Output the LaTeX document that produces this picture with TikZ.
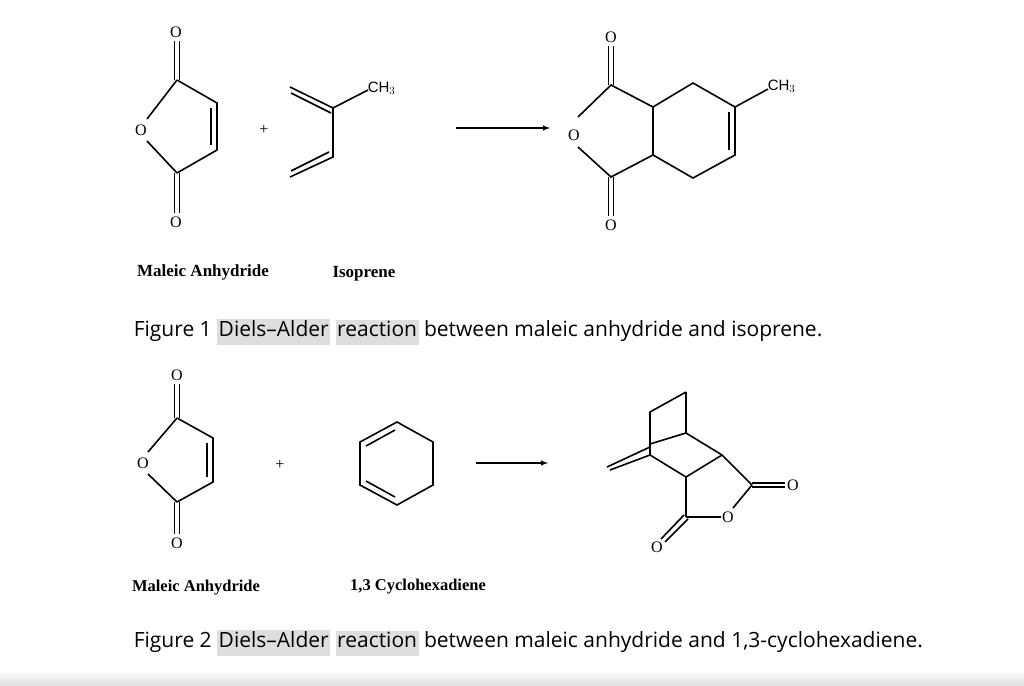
\documentclass[tikz,border=0pt]{standalone}
\usepackage{fontspec}
\setmainfont{Liberation Serif}
\newfontfamily\capfont{Open Sans}
\newfontfamily\chsans{Liberation Sans}
\usepackage{xcolor}
\definecolor{hl}{HTML}{DEDEDE}
\begin{document}
\begin{tikzpicture}[x=1pt,y=-1pt,line width=1.6pt,
  atom/.style={font=\fontsize{16}{16}\selectfont,inner sep=0pt},
  ch/.style={font=\chsans\fontsize{15}{15}\selectfont,inner sep=0pt},
  lab/.style={font=\bfseries\fontsize{17}{17}\selectfont,inner sep=0pt},
  capt/.style={font=\capfont\fontsize{21}{21}\selectfont,inner sep=0pt,anchor=west},
  arr/.style={-latex,line width=1.4pt}]
\useasboundingbox (0,0) rectangle (1024,685);
\fill[white] (0,0) rectangle (1024,685);
\shade[top color=white,bottom color=black!12] (0,670) rectangle (1024,685);
\newcommand{\hlw}[1]{{\setlength{\fboxsep}{1.5pt}\colorbox{hl}{\strut #1}}}
% ---- Figure 1 maleic anhydride
\node[atom] (o1t) at (176,32) {O};
\node[atom] (o1l) at (141,130) {O};
\node[atom] (o1b) at (176,222) {O};
\draw (177,80) -- (217,103) -- (217,150) -- (177,173);
\draw (211,108) -- (211,145);
\draw (177,80) -- (147,119); \draw (147,141) -- (177,173);
\draw (174.5,80) -- (174.5,41); \draw (179.5,80) -- (179.5,41);
\draw (174.5,173) -- (174.5,213); \draw (179.5,173) -- (179.5,213);
\node[font=\fontsize{16}{16}\selectfont] (p1) at (264,130) {+};
% isoprene
\draw (290,87) -- (333,108) -- (368,90);
\draw (291,93) -- (331,113);
\draw (333,108) -- (333,157) -- (290,177);
\draw (291,171) -- (329,152);
\node[ch,anchor=west] (ch1) at (367,88) {CH$_3$};
\draw[arr] (456,128) -- (550,128);
% product 1
\node[atom] (o2t) at (611,37) {O};
\node[atom] (o2l) at (574,135) {O};
\node[atom] (o2b) at (611,225) {O};
\draw (608.5,85) -- (608.5,46); \draw (613.5,85) -- (613.5,46);
\draw (608.5,177) -- (608.5,216); \draw (613.5,177) -- (613.5,216);
\draw (578,117) -- (611,85) -- (653,107) -- (653,155) -- (611,177) -- (578,147);
\draw (653,107) -- (693,83) -- (735,107) -- (735,155) -- (693,178) -- (653,155);
\draw (729,112) -- (729,150);
\draw (735,107) -- (768,89);
\node[ch,anchor=west] (ch2) at (767,86) {CH$_3$};
\node[lab] (l1) at (203,272) {Maleic Anhydride};
\node[lab] (l2) at (364,274) {Isoprene};
\node[capt] (c1) at (133,332) {Figure 1 \hlw{Diels–Alder} \hlw{reaction} between maleic anhydride and isoprene.};
% ---- Figure 2 maleic anhydride
\node[atom] (o3t) at (177,375) {O};
\node[atom] (o3l) at (143,463) {O};
\node[atom] (o3b) at (177,543) {O};
\draw (177,418) -- (213,438) -- (213,482) -- (177,502);
\draw (207,443) -- (207,477);
\draw (177,418) -- (148,452); \draw (148,474) -- (177,502);
\draw (174.5,418) -- (174.5,384); \draw (179.5,418) -- (179.5,384);
\draw (174.5,502) -- (174.5,534); \draw (179.5,502) -- (179.5,534);
\node[font=\fontsize{16}{16}\selectfont] (p2) at (280,465) {+};
% cyclohexadiene
\draw (397,422) -- (433,442) -- (433,485) -- (397,505) -- (360,485) -- (360,442) -- cycle;
\draw (366,446) -- (395,430);
\draw (366,481) -- (395,497);
\draw[arr] (476,463) -- (548,463);
% product 2
\draw (686,392) -- (650,412) -- (650,455);
\draw (686,392) -- (686,433) -- (650,444);
\draw (650,447) -- (607,467);
\draw (650,455) -- (610,470);
\draw (650,455) -- (686,477) -- (686,517);
\draw (686,477) -- (722,455);
\draw (686,433) -- (722,455) -- (752,485);
\draw (752,483) -- (785,483); \draw (752,487) -- (785,487);
\node[atom] (o4r) at (793,485) {O};
\node[atom] (o4m) at (728,517) {O};
\draw (752,485) -- (733,508);
\draw (686,517) -- (721,517);
\draw (684,515) -- (661,539); \draw (688,519) -- (665,542);
\node[atom] (o4b) at (657,547) {O};
\node[lab,font=\bfseries\fontsize{16.5}{16.5}\selectfont] (l3) at (196,588) {Maleic Anhydride};
\node[lab,font=\bfseries\fontsize{16.5}{16.5}\selectfont] (l4) at (418,587) {1,3 Cyclohexadiene};
\node[capt] (c2) at (133,643) {Figure 2 \hlw{Diels–Alder} \hlw{reaction} between maleic anhydride and 1,3-cyclohexadiene.};
\end{tikzpicture}
\end{document}
